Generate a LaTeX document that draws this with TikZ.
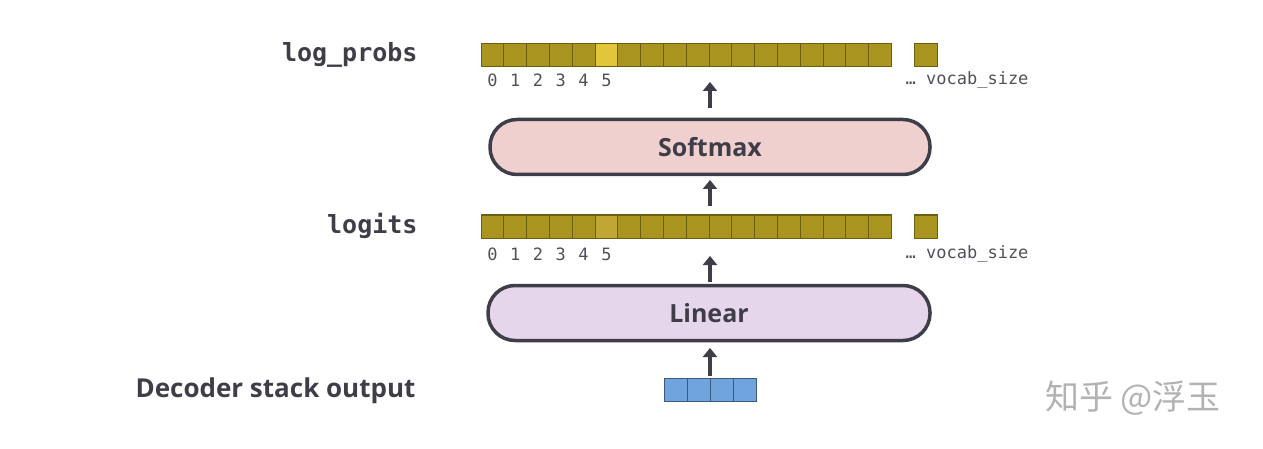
\documentclass[tikz,border=0pt]{standalone}
\usepackage{fontspec}
\usetikzlibrary{arrows.meta}
\setmainfont{Open Sans}
\newfontfamily\monof{DejaVu Sans Mono}
\newfontfamily\cjk{Noto Sans CJK SC}
\definecolor{olv}{HTML}{A8941F}
\definecolor{olvd}{HTML}{6E5E10}
\definecolor{yel}{HTML}{E2C63A}
\definecolor{yel2}{HTML}{C0A632}
\definecolor{pnk}{HTML}{EFD0CE}
\definecolor{lav}{HTML}{E6D6EC}
\definecolor{blu}{HTML}{6FA5DC}
\definecolor{blud}{HTML}{3B5A80}
\definecolor{drk}{HTML}{3E3D48}
\begin{document}
\begin{tikzpicture}[x=1pt,y=-1pt,
  cell/.style={draw=olvd,line width=1pt,fill=olv},
  lab/.style={font=\monof\fontsize{17}{17}\selectfont,text=drk!90},
  big/.style={font=\monof\bfseries\fontsize{25}{25}\selectfont,text=drk,anchor=east},
  pill/.style={draw=drk,line width=3.5pt,rounded corners=27pt,minimum width=440pt,minimum height=55pt,font=\fontsize{25}{25}\selectfont\bfseries,text=drk},
  arr/.style={-{Triangle[length=9pt,width=14pt]},line width=4pt,draw=drk}]
\useasboundingbox (0,0) rectangle (1263,449);
\foreach \i in {0,...,17}{
  \path[cell] ({481+\i*22.8},44) rectangle ({481+(\i+1)*22.8},67);
  \path[cell] ({481+\i*22.8},215) rectangle ({481+(\i+1)*22.8},238);}
\path[cell,fill=yel] ({481+5*22.8},44) rectangle ({481+6*22.8},67);
\path[cell,fill=yel2] ({481+5*22.8},215) rectangle ({481+6*22.8},238);
\path[cell] (914,44) rectangle (937,67);
\path[cell] (914,215) rectangle (937,238);
\foreach \i in {0,...,5}{
  \node[lab] at ({492.4+\i*22.8},80) {\i};
  \node[lab] at ({492.4+\i*22.8},254) {\i};}
\node[lab,anchor=east] (vs1) at (1032,80) {… vocab\_size};
\node[lab,anchor=east] (vs2) at (1032,254) {… vocab\_size};
\node[big] (lp) at (421,55) {log\_probs};
\node[big] (lg) at (421,226) {logits};
\node[anchor=east,font=\fontsize{26}{26}\selectfont\bfseries,text=drk] (dso) at (419,391) {Decoder stack output};
\node[pill,fill=pnk] (sm) at (710,147) {Softmax};
\node[pill,fill=lav,minimum width=442pt] (ln) at (709,313) {Linear};
\foreach \i in {0,...,3}
  \draw[draw=blud,line width=1pt,fill=blu] ({664+\i*23},378) rectangle ({664+(\i+1)*23},401);
\coordinate (a1) at (710,108); \coordinate (b1) at (710,82);
\coordinate (a2) at (710,206); \coordinate (b2) at (710,180);
\coordinate (a3) at (710,282); \coordinate (b3) at (710,256);
\coordinate (a4) at (710,376); \coordinate (b4) at (710,348);
\draw[arr] (a1) -- (b1); \draw[arr] (a2) -- (b2); \draw[arr] (a3) -- (b3); \draw[arr] (a4) -- (b4);
\node[font=\cjk\fontsize{34}{34}\selectfont,text=black!30] (wm) at (1133,398) {知乎 @浮玉};
\end{tikzpicture}
\end{document}
